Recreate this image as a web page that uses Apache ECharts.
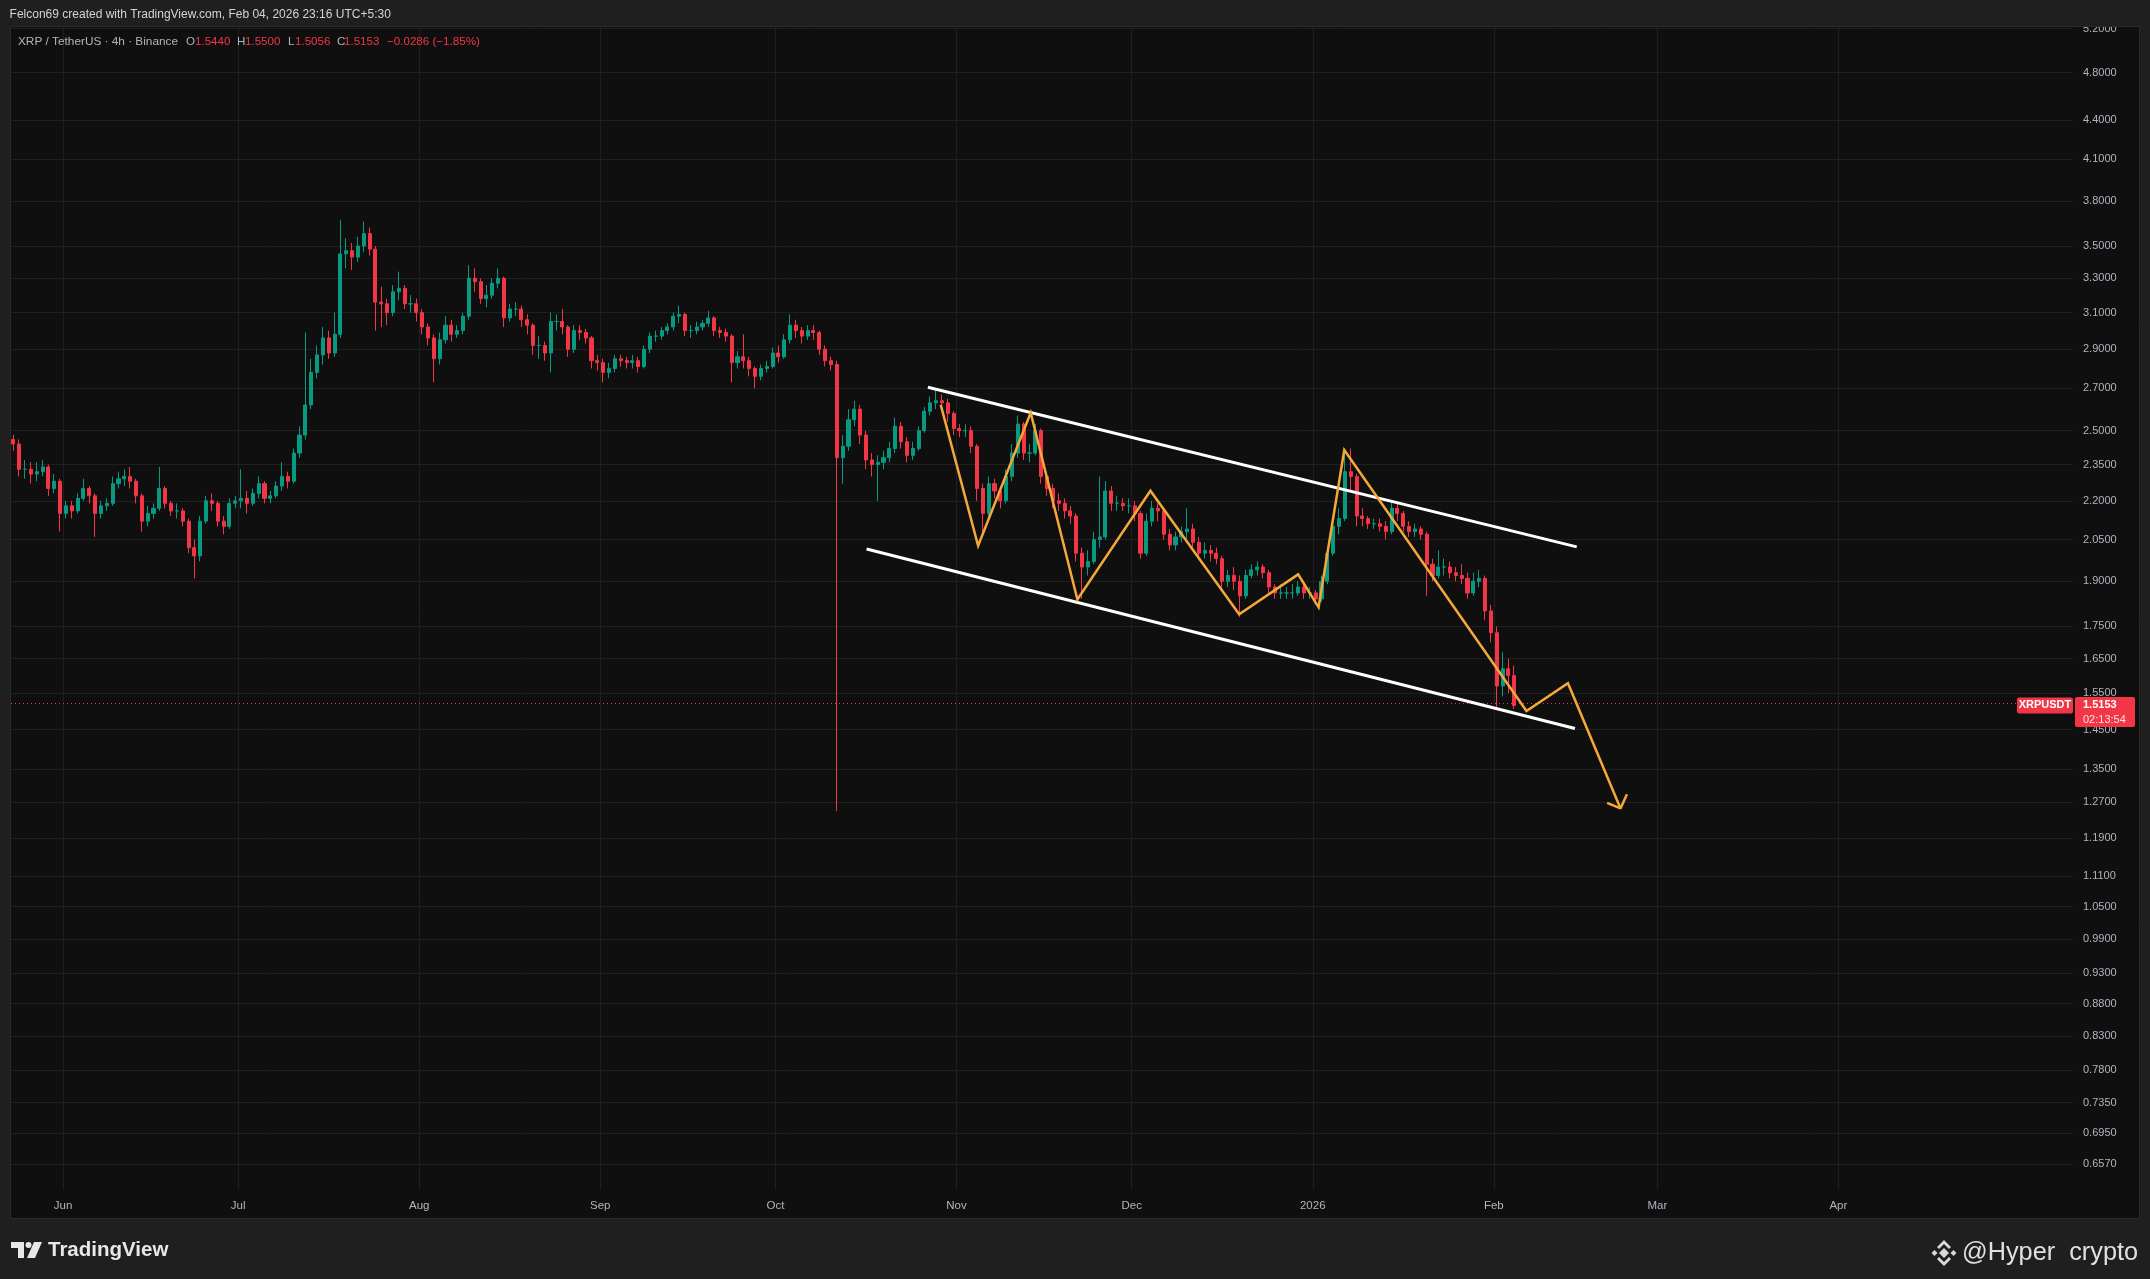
<!DOCTYPE html>
<html><head><meta charset="utf-8">
<script src="https://cdn.jsdelivr.net/npm/echarts@6/dist/echarts.min.js"></script>
<style>html,body{margin:0;padding:0;background:#1f1f1f;}#c{width:2150px;height:1279px;}</style>
</head><body><div id="c"></div>
<script>
// ---- daily candles (first day 2025-05-23) ----
const firstDay = [2025, 4, 23];
const opens = [
2.46,2.44,2.33,2.33,2.31,2.32,2.34,2.25,2.28,2.15,
2.18,2.16,2.21,2.25,2.22,2.15,2.18,2.19,2.27,2.29,
2.30,2.28,2.22,2.12,2.15,2.17,2.25,2.19,2.16,2.16,
2.12,2.02,1.99,2.12,2.20,2.19,2.12,2.10,2.19,2.20,
2.21,2.19,2.23,2.27,2.21,2.22,2.26,2.30,2.28,2.40,
2.48,2.62,2.78,2.87,2.96,2.88,2.98,3.45,3.47,3.43,
3.50,3.58,3.48,3.16,3.15,3.10,3.22,3.24,3.15,3.15,
3.10,3.02,2.96,2.85,2.95,3.03,2.98,3.00,3.08,3.30,
3.28,3.18,3.20,3.27,3.30,3.07,3.12,3.12,3.06,3.03,
2.92,2.92,2.88,3.05,3.05,3.02,2.90,3.00,2.99,2.96,
2.84,2.83,2.78,2.80,2.85,2.84,2.83,2.84,2.81,2.90,
2.97,2.97,3.00,3.02,3.08,3.09,3.00,3.00,3.02,3.04,
3.07,3.00,2.99,2.97,2.83,2.86,2.84,2.80,2.76,2.80,
2.81,2.88,2.86,2.95,3.03,3.00,2.97,3.00,2.99,2.90,
2.84,2.82,2.38,2.43,2.55,2.60,2.48,2.37,2.35,2.36,
2.38,2.42,2.52,2.45,2.39,2.42,2.50,2.59,2.63,2.64,
2.63,2.58,2.51,2.50,2.50,2.43,2.25,2.15,2.27,2.24,
2.20,2.30,2.40,2.53,2.40,2.40,2.50,2.30,2.25,2.20,
2.19,2.16,2.14,2.00,1.95,1.97,2.05,2.06,2.24,2.19,
2.19,2.18,2.18,2.15,2.00,2.12,2.17,2.16,2.07,2.03,
2.06,2.08,2.09,2.04,2.00,2.01,2.00,1.98,1.90,1.92,
1.90,1.85,1.92,1.94,1.95,1.93,1.88,1.86,1.86,1.86,
1.86,1.88,1.86,1.86,1.84,1.90,2.00,2.10,2.13,2.32,
2.30,2.14,2.13,2.11,2.11,2.10,2.08,2.17,2.15,2.10,
2.08,2.09,2.07,1.96,1.92,1.95,1.95,1.93,1.92,1.91,
1.86,1.90,1.91,1.80,1.73,1.57,1.62,1.60];
const closes = [
2.44,2.33,2.33,2.31,2.32,2.34,2.25,2.28,2.15,2.18,
2.16,2.21,2.25,2.22,2.15,2.18,2.19,2.27,2.29,2.30,
2.28,2.22,2.12,2.15,2.17,2.25,2.19,2.16,2.16,2.12,
2.02,1.99,2.12,2.20,2.19,2.12,2.10,2.19,2.20,2.21,
2.19,2.23,2.27,2.21,2.22,2.26,2.30,2.28,2.40,2.48,
2.62,2.78,2.87,2.96,2.88,2.98,3.45,3.47,3.43,3.50,
3.58,3.48,3.16,3.15,3.10,3.22,3.24,3.15,3.15,3.10,
3.02,2.96,2.85,2.95,3.03,2.98,3.00,3.08,3.30,3.28,
3.18,3.20,3.27,3.30,3.07,3.12,3.12,3.06,3.03,2.92,
2.92,2.88,3.05,3.05,3.02,2.90,3.00,2.99,2.96,2.84,
2.83,2.78,2.80,2.85,2.84,2.83,2.84,2.81,2.90,2.97,
2.97,3.00,3.02,3.08,3.09,3.00,3.00,3.02,3.04,3.07,
3.00,2.99,2.97,2.83,2.86,2.84,2.80,2.76,2.80,2.81,
2.88,2.86,2.95,3.03,3.00,2.97,3.00,2.99,2.90,2.84,
2.82,2.38,2.43,2.55,2.60,2.48,2.37,2.35,2.36,2.38,
2.42,2.52,2.45,2.39,2.42,2.50,2.59,2.63,2.64,2.63,
2.58,2.51,2.50,2.50,2.43,2.25,2.15,2.27,2.24,2.20,
2.30,2.40,2.53,2.40,2.40,2.50,2.30,2.25,2.20,2.19,
2.16,2.14,2.00,1.95,1.97,2.05,2.06,2.24,2.19,2.19,
2.18,2.18,2.15,2.00,2.12,2.17,2.16,2.07,2.03,2.06,
2.08,2.09,2.04,2.00,2.01,2.00,1.98,1.90,1.92,1.90,
1.85,1.92,1.94,1.95,1.93,1.88,1.86,1.86,1.86,1.86,
1.88,1.86,1.86,1.84,1.90,2.00,2.10,2.13,2.32,2.30,
2.14,2.13,2.11,2.11,2.10,2.08,2.17,2.15,2.10,2.08,
2.09,2.07,1.96,1.92,1.95,1.95,1.93,1.92,1.91,1.86,
1.90,1.91,1.80,1.73,1.57,1.62,1.60,1.5153];
const lows = [
2.41,2.30,2.29,2.27,2.28,2.30,2.22,2.23,2.08,2.13,
2.13,2.15,2.20,2.19,2.06,2.13,2.16,2.18,2.25,2.26,
2.25,2.19,2.08,2.10,2.13,2.16,2.17,2.14,2.13,2.10,
2.00,1.91,1.97,2.11,2.16,2.10,2.07,2.09,2.17,2.17,
2.15,2.18,2.21,2.19,2.19,2.21,2.24,2.25,2.27,2.38,
2.46,2.60,2.75,2.82,2.85,2.86,2.96,3.36,3.35,3.40,
3.46,3.44,3.00,3.02,3.03,3.08,3.17,3.12,3.10,3.05,
2.98,2.92,2.73,2.82,2.93,2.94,2.96,2.98,3.06,3.22,
3.15,3.13,3.18,3.24,3.02,3.05,3.08,3.02,2.98,2.87,
2.85,2.84,2.78,3.00,2.98,2.86,2.88,2.95,2.93,2.80,
2.79,2.73,2.75,2.78,2.81,2.80,2.80,2.78,2.80,2.88,
2.94,2.95,2.98,3.00,3.04,2.97,2.96,2.98,3.00,3.02,
2.97,2.96,2.94,2.73,2.80,2.80,2.76,2.70,2.74,2.78,
2.80,2.83,2.85,2.93,2.96,2.93,2.95,2.95,2.87,2.81,
2.79,1.25,2.27,2.41,2.52,2.44,2.33,2.30,2.20,2.33,
2.36,2.40,2.42,2.36,2.37,2.41,2.49,2.57,2.60,2.59,
2.54,2.48,2.47,2.47,2.40,2.20,2.07,2.13,2.21,2.17,
2.19,2.28,2.38,2.37,2.36,2.39,2.27,2.22,2.17,2.16,
2.13,2.11,1.97,1.84,1.92,1.96,2.02,2.05,2.16,2.16,
2.16,2.15,2.12,1.98,1.99,2.10,2.12,2.05,2.01,2.01,
2.04,2.05,2.02,1.98,1.98,1.97,1.96,1.87,1.88,1.87,
1.78,1.84,1.91,1.92,1.91,1.86,1.84,1.84,1.84,1.84,
1.85,1.84,1.84,1.82,1.83,1.89,1.99,2.07,2.12,2.24,
2.10,2.10,2.09,2.09,2.08,2.05,2.07,2.12,2.08,2.06,
2.06,2.05,1.85,1.90,1.91,1.92,1.91,1.90,1.89,1.84,
1.85,1.88,1.77,1.70,1.51,1.54,1.55,1.5056];
const highs = [
2.48,2.46,2.37,2.36,2.36,2.37,2.35,2.31,2.29,2.20,
2.20,2.23,2.29,2.26,2.23,2.20,2.21,2.30,2.32,2.33,
2.34,2.29,2.23,2.18,2.19,2.34,2.26,2.20,2.19,2.17,
2.13,2.05,2.14,2.22,2.23,2.20,2.14,2.21,2.22,2.33,
2.24,2.25,2.30,2.28,2.24,2.28,2.36,2.32,2.42,2.52,
2.99,2.85,2.92,3.02,3.00,3.10,3.67,3.55,3.52,3.56,
3.66,3.62,3.50,3.25,3.18,3.26,3.34,3.26,3.20,3.18,
3.12,3.04,2.98,2.99,3.08,3.06,3.03,3.10,3.38,3.36,
3.30,3.26,3.30,3.36,3.31,3.15,3.16,3.14,3.09,3.04,
2.97,2.94,3.10,3.09,3.12,3.03,3.03,3.03,3.01,2.97,
2.87,2.85,2.83,2.87,2.87,2.86,2.87,2.86,2.92,2.99,
3.00,3.02,3.04,3.10,3.14,3.10,3.03,3.05,3.06,3.11,
3.08,3.02,3.01,2.98,2.89,2.98,2.86,2.81,2.82,2.84,
2.91,2.92,2.98,3.09,3.06,3.02,3.03,3.03,3.00,2.92,
2.86,2.84,2.48,2.60,2.64,2.62,2.50,2.40,2.39,2.41,
2.45,2.56,2.54,2.47,2.45,2.52,2.61,2.66,2.69,2.67,
2.65,2.59,2.53,2.53,2.52,2.44,2.27,2.30,2.29,2.26,
2.33,2.44,2.57,2.54,2.44,2.53,2.51,2.32,2.27,2.23,
2.21,2.18,2.15,2.02,2.01,2.08,2.30,2.28,2.26,2.22,
2.21,2.21,2.20,2.16,2.15,2.20,2.19,2.17,2.09,2.08,
2.10,2.17,2.11,2.06,2.04,2.03,2.02,1.99,1.94,1.95,
1.92,1.94,1.96,1.97,1.96,1.94,1.89,1.89,1.88,1.89,
1.90,1.89,1.88,1.87,1.92,2.02,2.13,2.17,2.41,2.42,
2.31,2.17,2.14,2.13,2.13,2.12,2.20,2.19,2.16,2.12,
2.11,2.10,2.08,1.98,2.01,1.98,1.97,1.95,1.96,1.93,
1.93,1.94,1.92,1.82,1.75,1.67,1.65,1.63];

// ---- axes ----
const priceTicks = [5.2,4.8,4.4,4.1,3.8,3.5,3.3,3.1,2.9,2.7,2.5,2.35,2.2,2.05,1.9,1.75,1.65,1.55,1.45,1.35,1.27,1.19,1.11,1.05,0.99,0.93,0.88,0.83,0.78,0.735,0.695,0.657];
const monthTicks = ['2025-06-01','2025-07-01','2025-08-01','2025-09-01','2025-10-01','2025-11-01','2025-12-01','2026-01-01','2026-02-01','2026-03-01','2026-04-01'];
const monthLabels = ['Jun','Jul','Aug','Sep','Oct','Nov','Dec','2026','Feb','Mar','Apr'];

// ---- drawings ----
const upperChannel = [['2025-10-27 02:24',2.706],['2026-02-15 04:48',2.023]];
const lowerChannel = [['2025-10-16 14:24',2.015],['2026-02-14 21:36',1.453]];
const zigzag = [['2025-10-29 07:12',2.62],['2025-11-04 16:48',2.027],['2025-11-13 16:48',2.583],['2025-11-21 16:48',1.838],['2025-12-04 04:48',2.241],['2025-12-19 09:36',1.789],['2025-12-29 12:00',1.924],['2026-01-02 00:00',1.812],['2026-01-06 09:36',2.413],['2026-02-06 14:24',1.500],['2026-02-13 16:48',1.578],['2026-02-22 16:48',1.256]];
const arrowHead = [['2026-02-20 09:36',1.269],['2026-02-22 16:48',1.256],['2026-02-23 19:12',1.289]];
const lastPrice = 1.5153;

const TS = s => { const [d,t='00:00'] = s.split(' '); const [Y,M,D] = d.split('-').map(Number); const [h,m] = t.split(':').map(Number); return new Date(Y,M-1,D,h,m).getTime(); };
const dates = closes.map((_,i) => new Date(firstDay[0], firstDay[1], firstDay[2]+i, 12).getTime());
const candles = dates.map((t,i) => [t, opens[i], closes[i], lows[i], highs[i]]);
const monthTs = monthTicks.map(s => TS(s));
const pts = arr => arr.map(p => [TS(p[0]), p[1]]);

const UP = '#089981', DN = '#f23645', AX = '#b2b5be', GRID = '#1f1f1f';
const FONT = 'Liberation Sans, Arial, sans-serif';

const chart = echarts.init(document.getElementById('c'), null, {renderer:'canvas'});
const T = (x,y,text,fill,size,weight,align) => ({type:'text', z:110, style:{x, y, text, fill, font:(weight||'normal')+' '+size+'px '+FONT, align:align||'left', verticalAlign:'middle'}});

chart.setOption({
  animation:false,
  backgroundColor:'#0f0f0f',
  grid:{left:11, right:77, top:27, bottom:89, outerBoundsMode:'none', containLabel:false},
  xAxis:{type:'value', min:TS('2025-05-23 02:18'), max:TS('2026-05-11 04:19'), scale:true,
    axisLine:{show:false}, axisTick:{show:false, customValues:monthTs},
    splitLine:{show:true, lineStyle:{color:GRID, width:1}},
    axisLabel:{customValues:monthTs, color:AX, fontSize:11.5, fontFamily:FONT, margin:10, showMinLabel:true, showMaxLabel:true,
      formatter:v => { const i = monthTs.findIndex(m => Math.abs(m-v) < 3.6e6); return i>=0 ? monthLabels[i] : ''; }}},
  yAxis:{type:'log', logBase:10, position:'right', min:0.62667, max:5.2165,
    axisLine:{show:false}, axisTick:{show:false, customValues:priceTicks},
    splitLine:{show:true, lineStyle:{color:GRID, width:1}},
    axisLabel:{customValues:priceTicks, color:AX, fontSize:11, fontFamily:FONT, margin:10,
      formatter:v => Number(v).toFixed(4)}},
  series:[
    {type:'candlestick', data:candles, encode:{x:0, y:[1,2,3,4]}, barWidth:3.6, z:3,
      itemStyle:{color:UP, color0:DN, borderColor:UP, borderColor0:DN, borderWidth:1},
      markLine:{silent:true, symbol:'none', label:{show:false},
        lineStyle:{color:DN, type:[1,3], width:1}, data:[{yAxis:lastPrice}]}},
    {type:'line', data:pts(upperChannel), symbol:'none', z:6, lineStyle:{color:'#ffffff', width:3}},
    {type:'line', data:pts(lowerChannel), symbol:'none', z:6, lineStyle:{color:'#ffffff', width:3}},
    {type:'line', data:pts(zigzag), symbol:'none', z:7, lineStyle:{color:'#f5a83a', width:2.5, join:'miter'}},
    {type:'line', data:pts(arrowHead), symbol:'none', z:7, lineStyle:{color:'#f5a83a', width:2.5}}
  ]
});

const py = chart.convertToPixel({gridIndex:0}, [dates[0], lastPrice])[1];
const BG = '#1f1f1f';
chart.setOption({graphic:[
  {type:'rect', z:100, shape:{x:0,y:0,width:2150,height:26.5}, style:{fill:BG}},
  {type:'rect', z:100, shape:{x:0,y:1218.5,width:2150,height:61}, style:{fill:BG}},
  {type:'rect', z:100, shape:{x:0,y:0,width:10.5,height:1279}, style:{fill:BG}},
  {type:'rect', z:100, shape:{x:2139.5,y:0,width:11,height:1279}, style:{fill:BG}},
  {type:'rect', z:101, shape:{x:10.5,y:26.5,width:2129,height:1192}, style:{fill:'none', stroke:'#2a2a2a', lineWidth:1}},
  T(9.6,14.5,'Felcon69 created with TradingView.com, Feb 04, 2026 23:16 UTC+5:30','#d1d4dc',12),
  T(18,42,'XRP / TetherUS · 4h · Binance',AX,11.8),
  T(186,42,'O',AX,11.6), T(195,42,'1.5440',DN,11.6),
  T(237,42,'H',AX,11.6), T(245,42,'1.5500',DN,11.6),
  T(288,42,'L',AX,11.6), T(295,42,'1.5056',DN,11.6),
  T(337,42,'C',AX,11.6), T(344,42,'1.5153',DN,11.6),
  T(387,42,'−0.0286 (−1.85%)',DN,11.6),
  {type:'rect', z:105, shape:{x:2017,y:py-8,width:56,height:16,r:2}, style:{fill:DN}},
  T(2045,py,'XRPUSDT','#ffffff',11,'bold','center'),
  {type:'rect', z:105, shape:{x:2075,y:py-8.5,width:60,height:30,r:2}, style:{fill:DN}},
  T(2083,py,'1.5153','#ffffff',11,'bold'),
  T(2083,py+14.5,'02:13:54','#ffe0e3',11),
  {type:'polygon', z:110, shape:{points:[[11,1242],[24,1242],[24,1258],[18,1258],[18,1248],[11,1248]]}, style:{fill:'#e8e8e8'}},
  {type:'circle', z:110, shape:{cx:28.5,cy:1245,r:3}, style:{fill:'#e8e8e8'}},
  {type:'polygon', z:110, shape:{points:[[34,1242],[42,1242],[35,1258],[27,1258]]}, style:{fill:'#e8e8e8'}},
  T(48,1250,'TradingView','#e8e8e8',20.5,'bold'),
  {type:'polygon', z:110, shape:{points:[[1944,1248],[1949,1253],[1944,1258],[1939,1253]]}, style:{fill:'#d8d8d8'}},
  {type:'polygon', z:110, shape:{points:[[1934.5,1250],[1937.5,1253],[1934.5,1256],[1931.5,1253]]}, style:{fill:'#d8d8d8'}},
  {type:'polygon', z:110, shape:{points:[[1953.5,1250],[1956.5,1253],[1953.5,1256],[1950.5,1253]]}, style:{fill:'#d8d8d8'}},
  {type:'polygon', z:110, shape:{points:[[1944,1240],[1951,1247],[1949,1249],[1944,1244],[1939,1249],[1937,1247]]}, style:{fill:'#d8d8d8'}},
  {type:'polygon', z:110, shape:{points:[[1944,1266],[1951,1259],[1949,1257],[1944,1262],[1939,1257],[1937,1259]]}, style:{fill:'#d8d8d8'}},
  T(1962,1253,'@Hyper  crypto','#e0e0e0',25.3)
]});
</script>
</body></html>
